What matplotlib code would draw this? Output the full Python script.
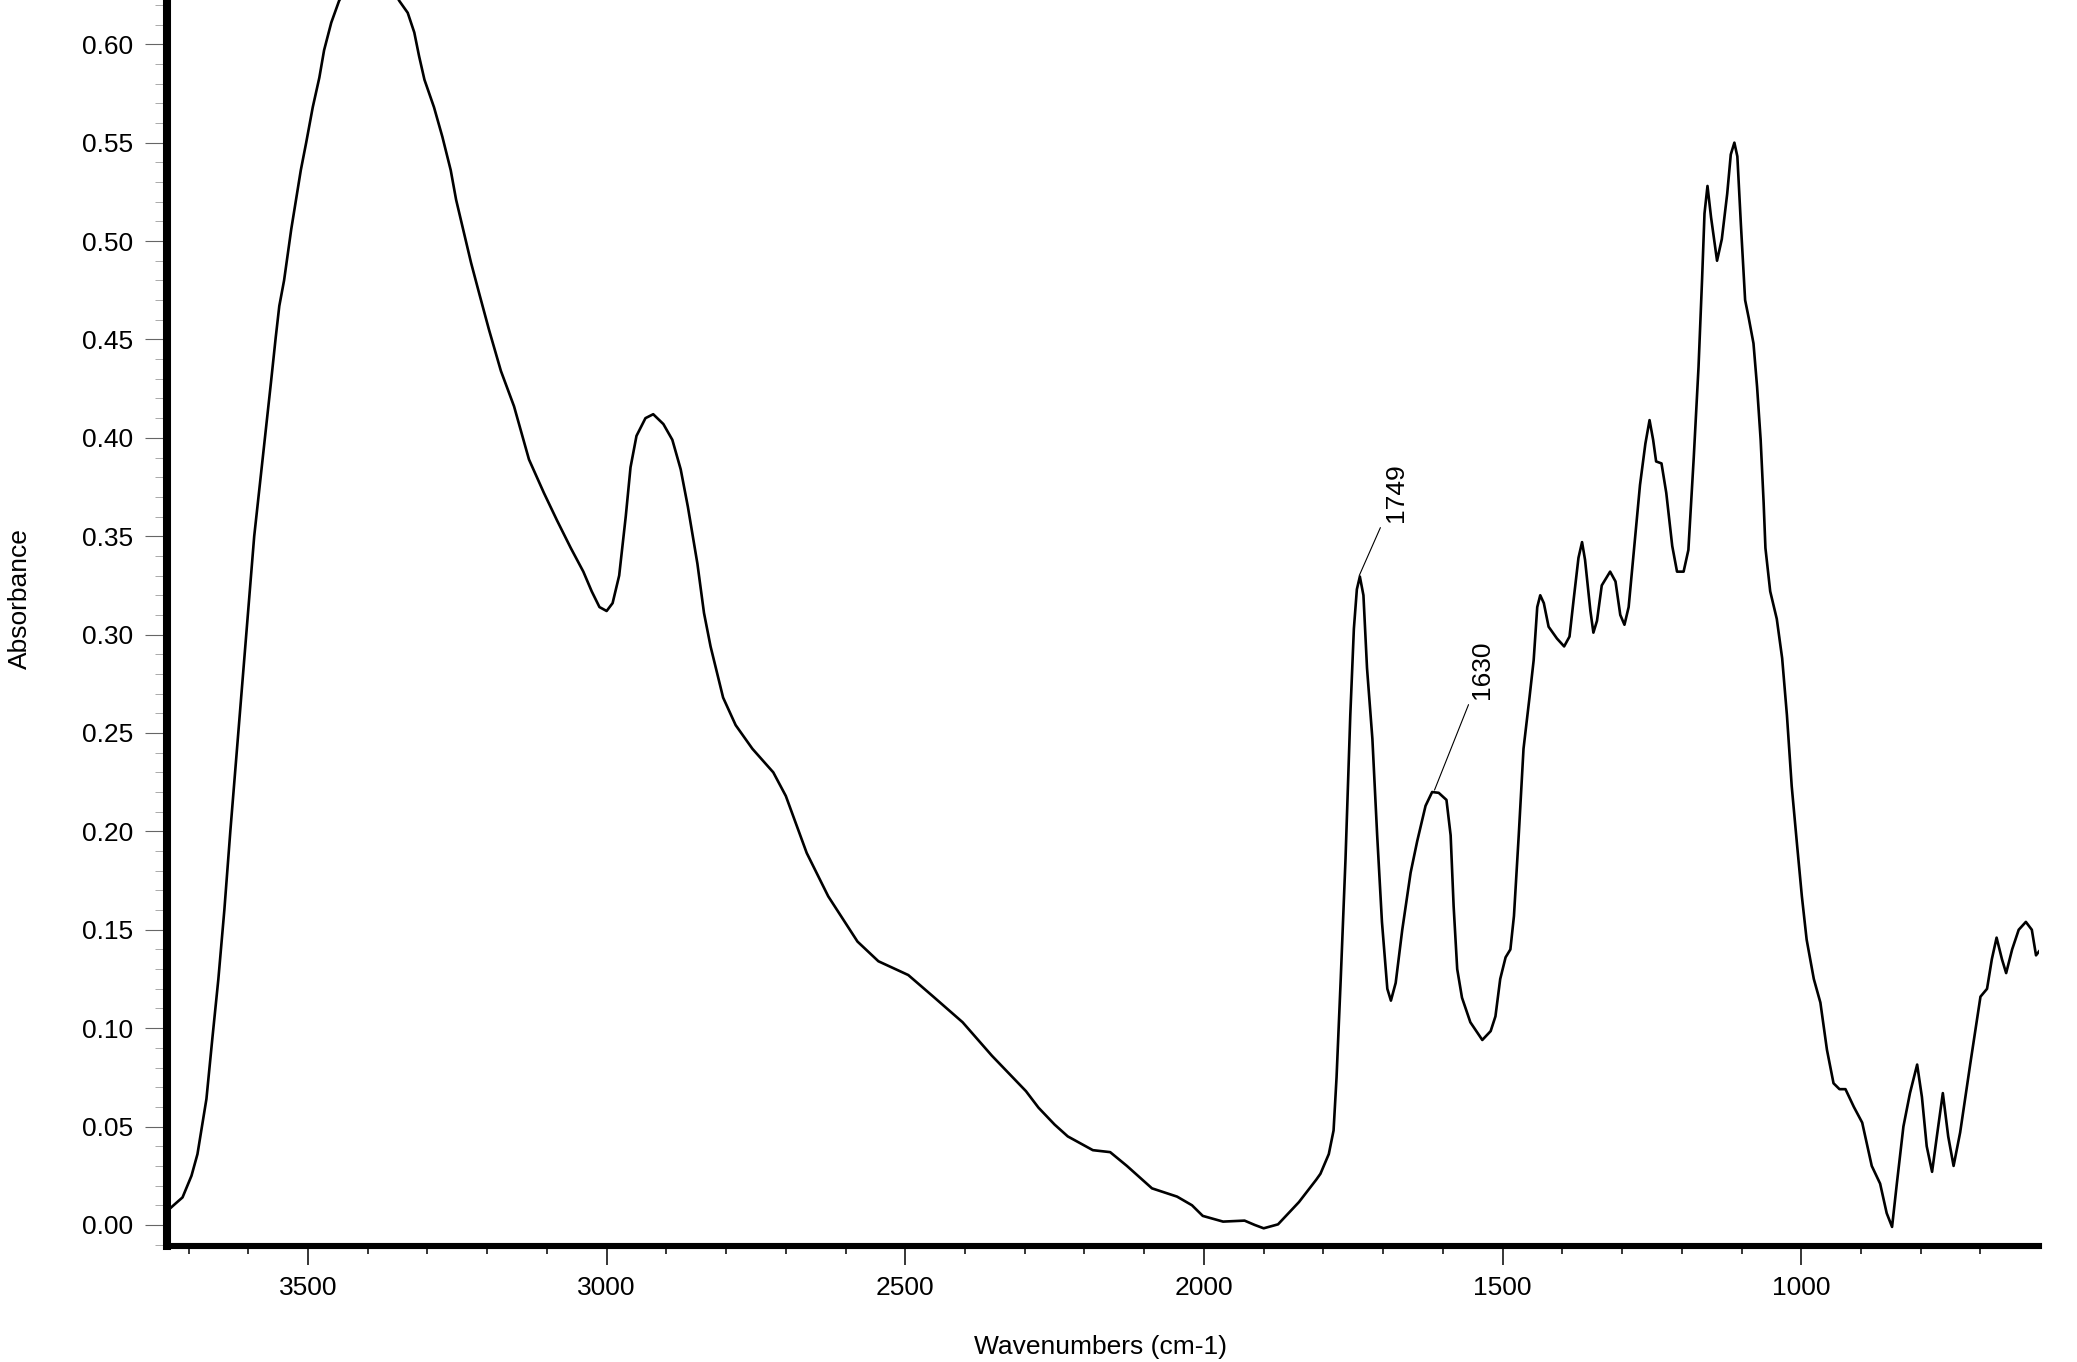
import numpy as np
import matplotlib
matplotlib.use('Agg')
import matplotlib.pyplot as plt
from matplotlib.ticker import MultipleLocator, FormatStrFormatter

plt.rcParams['font.family'] = ['Liberation Sans', 'DejaVu Sans']

# spectrum (wavenumber, absorbance)
wavenumber = [
    3736, 3725, 3710, 3695, 3685, 3670, 3660, 3650, 3640, 3630, 3618, 3606, 3590,
    3576, 3562, 3554, 3548, 3540, 3528, 3520, 3512, 3503, 3492, 3481, 3473, 3461,
    3448, 3430, 3400, 3370, 3347, 3333, 3322, 3314, 3305, 3289, 3275, 3261, 3252,
    3241, 3227, 3213, 3197, 3177, 3155, 3130, 3105, 3083, 3060, 3039, 3025, 3012,
    3000, 2990, 2979, 2968, 2960, 2950, 2935, 2922, 2905, 2890, 2876, 2864, 2848,
    2837, 2826, 2805, 2784, 2756, 2721, 2700, 2665, 2629, 2580, 2545, 2495, 2453,
    2404, 2355, 2298, 2277, 2250, 2228, 2186, 2157, 2129, 2087, 2045, 2020, 2002,
    1968, 1932, 1915, 1900, 1876, 1841, 1812, 1805, 1791, 1783, 1778, 1771, 1763,
    1755, 1749, 1744, 1739, 1733, 1727, 1718, 1710, 1702, 1693, 1687, 1679, 1668,
    1654, 1643, 1629, 1618, 1607, 1594, 1587, 1582, 1576, 1568, 1554, 1534, 1520,
    1512, 1504, 1495, 1487, 1481, 1473, 1465, 1455, 1448, 1442, 1437, 1431, 1423,
    1409, 1397, 1388, 1381, 1373, 1367, 1362, 1353, 1348, 1342, 1334, 1320, 1311,
    1303, 1296, 1289, 1278, 1270, 1261, 1254, 1248, 1243, 1234, 1226, 1216, 1208,
    1197, 1189, 1180, 1172, 1166, 1162, 1157, 1151, 1141, 1133, 1124, 1118, 1112,
    1107, 1101, 1094, 1088, 1080, 1074, 1068, 1063, 1060, 1052, 1041, 1032, 1024,
    1016, 1007, 999, 991, 979, 968, 957, 946, 936, 926, 912, 898, 882, 868, 857,
    848, 840, 829, 818, 806, 798, 790, 781, 773, 763, 754, 745, 734, 717, 700,
    689, 681, 673, 664, 657, 647, 636, 624, 614, 607, 602,
]
absorbance = [
    0.007, 0.010, 0.014, 0.025, 0.036, 0.064, 0.095, 0.125, 0.160, 0.200, 0.245, 0.290, 0.350,
    0.389, 0.428, 0.451, 0.467, 0.480, 0.506, 0.521, 0.536, 0.550, 0.568, 0.583, 0.597, 0.611,
    0.622, 0.632, 0.638, 0.634, 0.622, 0.616, 0.606, 0.594, 0.582, 0.568, 0.553, 0.536, 0.521,
    0.507, 0.489, 0.473, 0.455, 0.434, 0.416, 0.389, 0.372, 0.358, 0.344, 0.332, 0.322, 0.314,
    0.312, 0.316, 0.330, 0.360, 0.385, 0.401, 0.410, 0.412, 0.407, 0.399, 0.384, 0.365, 0.336,
    0.311, 0.294, 0.268, 0.254, 0.242, 0.230, 0.218, 0.189, 0.167, 0.144, 0.134, 0.127, 0.116,
    0.103, 0.086, 0.068, 0.0596, 0.051, 0.045, 0.038, 0.037, 0.030, 0.0186, 0.0144, 0.010, 0.0046,
    0.0017, 0.0022, 0.000, -0.0017, 0.0003, 0.0116, 0.023, 0.026, 0.036, 0.048, 0.075, 0.125, 0.186,
    0.259, 0.303, 0.323, 0.3295, 0.320, 0.283, 0.247, 0.198, 0.154, 0.120, 0.114, 0.123, 0.150,
    0.179, 0.195, 0.213, 0.220, 0.2196, 0.216, 0.198, 0.162, 0.130, 0.1155, 0.103, 0.094, 0.0985,
    0.106, 0.125, 0.136, 0.140, 0.157, 0.198, 0.242, 0.268, 0.287, 0.314, 0.320, 0.316, 0.304,
    0.298, 0.294, 0.299, 0.318, 0.339, 0.347, 0.338, 0.312, 0.301, 0.307, 0.325, 0.332, 0.327,
    0.310, 0.305, 0.314, 0.350, 0.376, 0.397, 0.409, 0.399, 0.388, 0.387, 0.372, 0.345, 0.332,
    0.332, 0.343, 0.390, 0.436, 0.481, 0.514, 0.528, 0.512, 0.490, 0.501, 0.524, 0.544, 0.550,
    0.543, 0.508, 0.470, 0.461, 0.448, 0.426, 0.399, 0.367, 0.344, 0.322, 0.308, 0.288, 0.259,
    0.223, 0.193, 0.167, 0.145, 0.125, 0.113, 0.089, 0.072, 0.069, 0.069, 0.060, 0.052, 0.030, 0.021, 0.006,
    -0.001, 0.021, 0.050, 0.067, 0.0815, 0.065, 0.040, 0.027, 0.045, 0.067, 0.045, 0.030, 0.047, 0.082, 0.116,
    0.120, 0.135, 0.146, 0.135, 0.128, 0.140, 0.150, 0.154, 0.150, 0.137, 0.139,
]

# labelled peaks: (label, peak position, label position)
peak_labels = ['1749', '1630']
peak_xy = [(1740, 0.330), (1614, 0.221)]
label_xy = [(1679, 0.372), (1534, 0.282)]

fig = plt.figure(figsize=(20.77, 13.62), dpi=100)
ax = fig.add_axes([167 / 2077, 116 / 1362, 1872 / 2077, 1246 / 1362])

ax.plot(wavenumber, absorbance, color='black', linewidth=1.9, solid_joinstyle='round')

ax.set_xlim(3736, 602)
ax.set_ylim(-0.0107, 0.6225)

for lab, xy, txy in zip(peak_labels, peak_xy, label_xy):
    ax.annotate(lab, xy=xy, xytext=txy, rotation=90, fontsize=19,
                ha='center', va='center',
                arrowprops=dict(arrowstyle='-', lw=0.8, color='black', shrinkB=0))

# axes look of the old spectrometer printout
ax.spines['top'].set_visible(False)
ax.spines['right'].set_visible(False)
ax.spines['left'].set_linewidth(5.8)
ax.spines['bottom'].set_linewidth(4.4)

ax.xaxis.set_major_locator(MultipleLocator(500))
ax.xaxis.set_minor_locator(MultipleLocator(100))
ax.yaxis.set_major_locator(MultipleLocator(0.05))
ax.yaxis.set_minor_locator(MultipleLocator(0.01))
ax.yaxis.set_major_formatter(FormatStrFormatter('%.2f'))

ax.tick_params(axis='x', which='major', direction='out', length=13.5, width=1.1, pad=8, labelsize=19)
ax.tick_params(axis='x', which='minor', direction='out', length=5.5, width=1.1)
ax.tick_params(axis='y', which='major', direction='out', length=15.5, width=0.8, color='#666666', pad=9, labelsize=19)
ax.tick_params(axis='y', which='minor', direction='out', length=8.5, width=0.7, color='#aaaaaa')

fig.text(20 / 2077, 1 - 599 / 1362, 'Absorbance', rotation=90, fontsize=19, ha='center', va='center')
fig.text(1100 / 2077, 1 - 1347 / 1362, 'Wavenumbers (cm-1)', fontsize=19, ha='center', va='center')

fig.savefig('out.png', dpi=100)
